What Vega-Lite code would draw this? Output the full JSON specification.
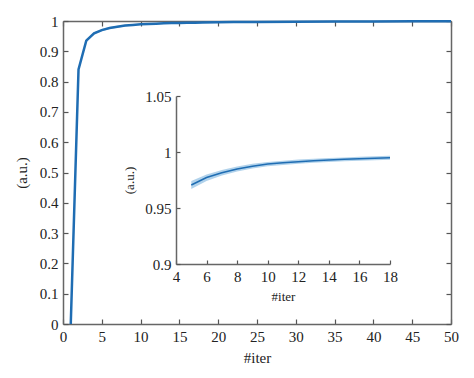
{
  "$schema": "https://vega.github.io/schema/vega-lite/v6.json",
  "width": 388,
  "height": 303,
  "autosize": "none",
  "padding": {"left": 63, "top": 21, "right": 23, "bottom": 54},
  "background": "white",
  "config": {
    "view": {"stroke": null},
    "font": "Liberation Serif",
    "axis": {
      "labelFont": "Liberation Serif",
      "titleFont": "Liberation Serif",
      "labelFontSize": 15,
      "titleFontSize": 15,
      "titleFontWeight": "normal",
      "labelColor": "#222",
      "titleColor": "#222",
      "domainColor": "#666",
      "domainWidth": 1.5,
      "tickColor": "#555",
      "tickWidth": 1.2,
      "tickSize": -5,
      "grid": false,
      "labelPadding": 10,
      "labelOverlap": false,
      "labelFlush": false
    }
  },
  "datasets": {
    "main": [
      {"iter": 1, "v": 0.0, "lo": 0.0, "hi": 0.0},
      {"iter": 2, "v": 0.84, "lo": 0.835, "hi": 0.846},
      {"iter": 3, "v": 0.935, "lo": 0.93, "hi": 0.94},
      {"iter": 4, "v": 0.959, "lo": 0.955, "hi": 0.963},
      {"iter": 5, "v": 0.970, "lo": 0.966, "hi": 0.974},
      {"iter": 6, "v": 0.977, "lo": 0.974, "hi": 0.980},
      {"iter": 7, "v": 0.981, "lo": 0.978, "hi": 0.984},
      {"iter": 8, "v": 0.985, "lo": 0.982, "hi": 0.987},
      {"iter": 9, "v": 0.987, "lo": 0.985, "hi": 0.989},
      {"iter": 10, "v": 0.989, "lo": 0.987, "hi": 0.991},
      {"iter": 11, "v": 0.990, "lo": 0.988, "hi": 0.992},
      {"iter": 12, "v": 0.9912, "lo": 0.989, "hi": 0.993},
      {"iter": 13, "v": 0.9922, "lo": 0.990, "hi": 0.994},
      {"iter": 14, "v": 0.993, "lo": 0.991, "hi": 0.995},
      {"iter": 15, "v": 0.9935, "lo": 0.9915, "hi": 0.9955},
      {"iter": 16, "v": 0.994, "lo": 0.992, "hi": 0.996},
      {"iter": 17, "v": 0.9945, "lo": 0.9925, "hi": 0.9965},
      {"iter": 18, "v": 0.995, "lo": 0.993, "hi": 0.997},
      {"iter": 20, "v": 0.9958, "lo": 0.994, "hi": 0.9975},
      {"iter": 22, "v": 0.9963, "lo": 0.9945, "hi": 0.998},
      {"iter": 25, "v": 0.997, "lo": 0.995, "hi": 0.9985},
      {"iter": 30, "v": 0.9977, "lo": 0.996, "hi": 0.999},
      {"iter": 35, "v": 0.9982, "lo": 0.9965, "hi": 0.9995},
      {"iter": 40, "v": 0.9985, "lo": 0.997, "hi": 0.9998},
      {"iter": 45, "v": 0.9988, "lo": 0.9973, "hi": 1.0},
      {"iter": 50, "v": 0.999, "lo": 0.9975, "hi": 1.0}
    ],
    "inset": [
      {"iter": 5, "v": 0.9705, "lo": 0.967, "hi": 0.974},
      {"iter": 6, "v": 0.9772, "lo": 0.9742, "hi": 0.980},
      {"iter": 7, "v": 0.9815, "lo": 0.979, "hi": 0.984},
      {"iter": 8, "v": 0.9849, "lo": 0.9826, "hi": 0.9871},
      {"iter": 9, "v": 0.9873, "lo": 0.9852, "hi": 0.9894},
      {"iter": 10, "v": 0.9892, "lo": 0.9872, "hi": 0.9911},
      {"iter": 11, "v": 0.9904, "lo": 0.9885, "hi": 0.9922},
      {"iter": 12, "v": 0.9914, "lo": 0.9895, "hi": 0.9932},
      {"iter": 13, "v": 0.9922, "lo": 0.9904, "hi": 0.9939},
      {"iter": 14, "v": 0.9929, "lo": 0.9911, "hi": 0.9946},
      {"iter": 15, "v": 0.9935, "lo": 0.9917, "hi": 0.9952},
      {"iter": 16, "v": 0.994, "lo": 0.9922, "hi": 0.9957},
      {"iter": 17, "v": 0.9945, "lo": 0.9927, "hi": 0.9962},
      {"iter": 18, "v": 0.9949, "lo": 0.9931, "hi": 0.9966}
    ]
  },
  "resolve": {
    "scale": {"x": "independent", "y": "independent"},
    "axis": {"x": "independent", "y": "independent"}
  },
  "layer": [
    {
      "data": {"name": "main"},
      "encoding": {
        "x": {"field": "iter", "type": "quantitative", "scale": {"domain": [0, 50], "nice": false},
              "axis": {"orient": "bottom", "values": [0,5,10,15,20,25,30,35,40,45,50], "title": "#iter", "titlePadding": 6, "labelOverlap": false, "tickSize": -5, "labelPadding": 10, "labelFont": "Liberation Serif", "labelFontSize": 15}}
      },
      "layer": [
        {
          "mark": {"type": "area", "color": "#a9cde9", "opacity": 0.9},
          "encoding": {
            "y": {"field": "lo", "type": "quantitative", "scale": {"domain": [0, 1], "nice": false},
                  "axis": {"orient": "left", "values": [0,0.1,0.2,0.3,0.4,0.5,0.6,0.7,0.8,0.9,1], "format": "~g", "title": "(a.u.)", "titlePadding": 10, "labelOverlap": false, "tickSize": -5, "labelPadding": 10, "labelFont": "Liberation Serif", "labelFontSize": 15}},
            "y2": {"field": "hi"}
          }
        },
        {
          "mark": {"type": "line", "color": "#1f6db3", "strokeWidth": 2.5},
          "encoding": {
            "y": {"field": "v", "type": "quantitative",
                  "axis": {"orient": "left", "values": [0,0.1,0.2,0.3,0.4,0.5,0.6,0.7,0.8,0.9,1], "format": "~g", "title": "(a.u.)", "titlePadding": 10, "labelOverlap": false, "tickSize": -5, "labelPadding": 10, "labelFont": "Liberation Serif", "labelFontSize": 15}}
          }
        }
      ]
    },
    {
      "data": {"name": "main"},
      "mark": {"type": "point", "opacity": 0},
      "encoding": {
        "x": {"field": "iter", "type": "quantitative", "scale": {"domain": [0, 50], "nice": false},
              "axis": {"orient": "top", "values": [0,5,10,15,20,25,30,35,40,45,50], "labels": false, "title": null, "tickSize": -5}},
        "y": {"field": "v", "type": "quantitative", "scale": {"domain": [0, 1], "nice": false},
              "axis": {"orient": "right", "values": [0,0.1,0.2,0.3,0.4,0.5,0.6,0.7,0.8,0.9,1], "labels": false, "title": null, "tickSize": -5}}
      }
    },
    {
      "data": {"name": "inset"},
      "encoding": {
        "x": {"field": "iter", "type": "quantitative", "scale": {"domain": [4, 18], "nice": false, "range": [113, 327]},
              "axis": {"orient": "bottom", "offset": -60, "values": [4,6,8,10,12,14,16,18], "title": "#iter", "titleFontSize": 13, "titlePadding": 6, "labelOverlap": false, "tickSize": -4, "labelPadding": 9, "labelFont": "Liberation Serif", "labelFontSize": 15}}
      },
      "layer": [
        {
          "mark": {"type": "area", "color": "#a9cde9", "opacity": 0.9},
          "encoding": {
            "y": {"field": "lo", "type": "quantitative", "scale": {"domain": [0.9, 1.05], "nice": false, "zero": false, "range": [243, 75]},
                  "axis": {"orient": "left", "offset": -113, "values": [0.9, 0.95, 1, 1.05], "format": "~g", "title": "(a.u.)", "titleFontSize": 13, "titlePadding": 8, "labelOverlap": false, "tickSize": -4, "labelPadding": 9, "labelFont": "Liberation Serif", "labelFontSize": 15}},
            "y2": {"field": "hi"}
          }
        },
        {
          "mark": {"type": "line", "color": "#1f6db3", "strokeWidth": 1.5},
          "encoding": {
            "y": {"field": "v", "type": "quantitative",
                  "axis": {"orient": "left", "offset": -113, "values": [0.9, 0.95, 1, 1.05], "format": "~g", "title": "(a.u.)", "titleFontSize": 13, "titlePadding": 8, "labelOverlap": false, "tickSize": -4, "labelPadding": 9, "labelFont": "Liberation Serif", "labelFontSize": 15}}
          }
        }
      ]
    }
  ]
}
